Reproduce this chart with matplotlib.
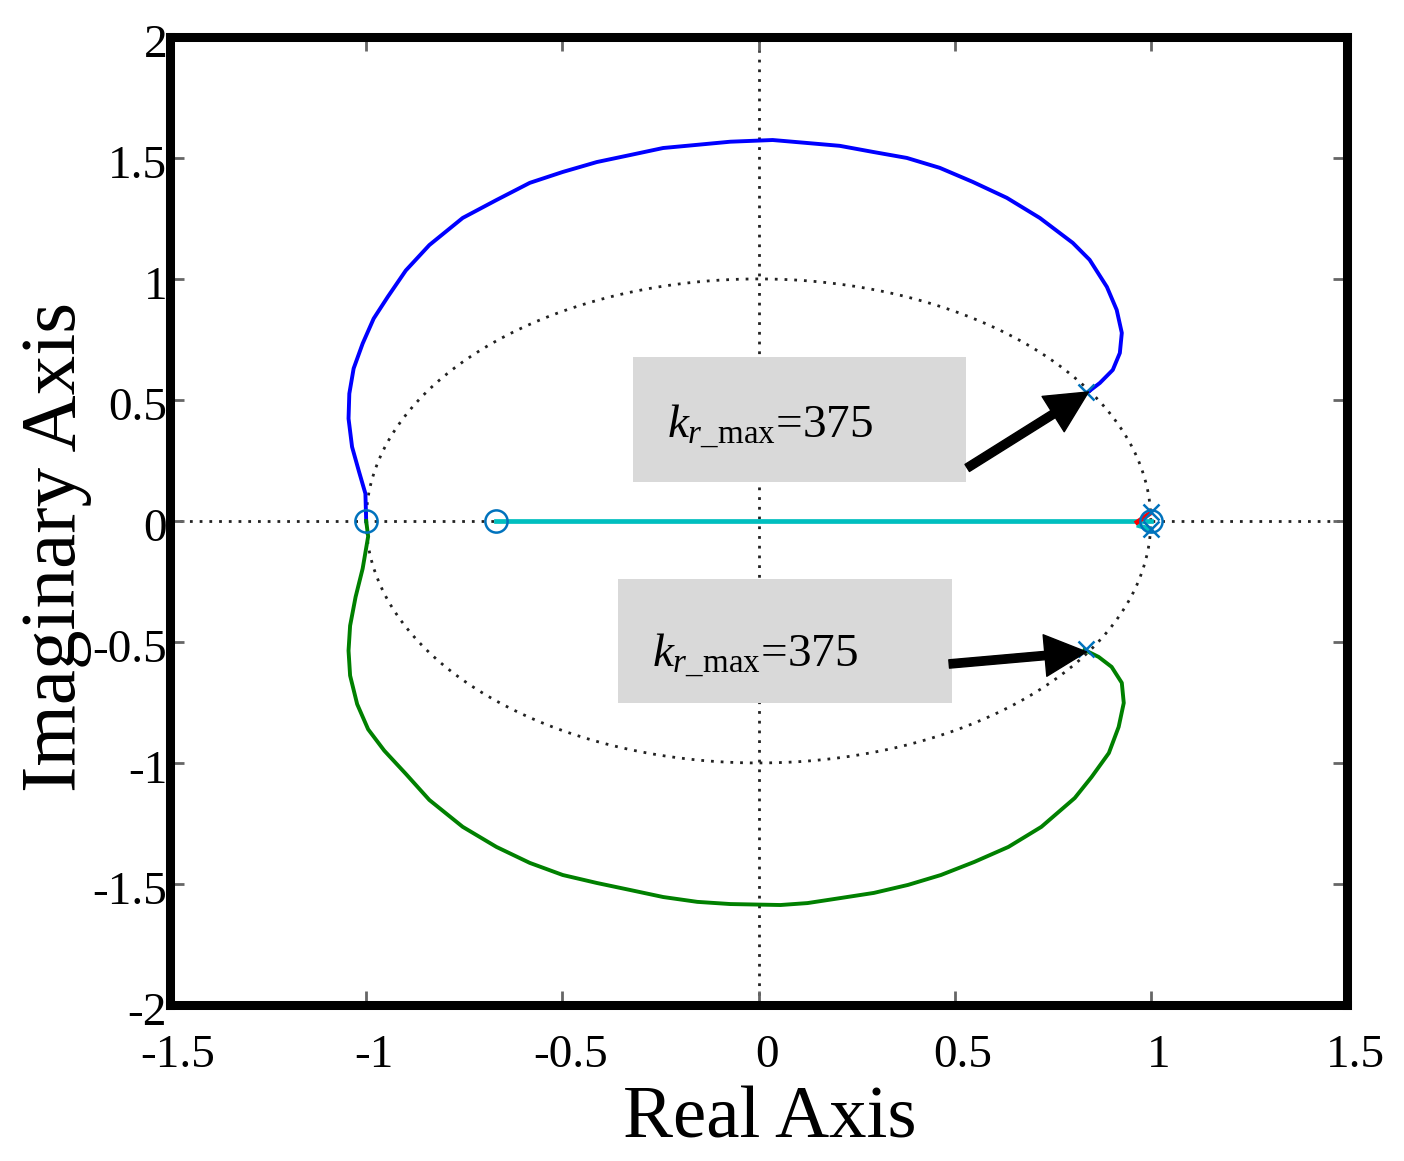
import numpy as np
import matplotlib
matplotlib.use("Agg")
import matplotlib.pyplot as plt
from matplotlib.transforms import ScaledTranslation

# -----------------------------
# datos
# -----------------------------
# rama superior (azul)
blue_re = [0.837, 0.870, 0.903, 0.921, 0.926, 0.913, 0.888, 0.844, 0.801, 0.717,
           0.633, 0.546, 0.462, 0.378, 0.291, 0.207, 0.122, 0.036, -0.072, -0.157,
           -0.243, -0.327, -0.412, -0.499, -0.583, -0.668, -0.754, -0.839, -0.899, -0.945,
           -0.981, -1.009, -1.032, -1.043, -1.045, -1.036, -1.018, -1.002, -1.0]
blue_im = [0.529, 0.570, 0.624, 0.694, 0.777, 0.872, 0.967, 1.079, 1.149, 1.252,
           1.335, 1.401, 1.459, 1.500, 1.525, 1.550, 1.562, 1.574, 1.567, 1.554,
           1.541, 1.512, 1.483, 1.442, 1.397, 1.326, 1.252, 1.140, 1.035, 0.926,
           0.836, 0.733, 0.630, 0.526, 0.423, 0.306, 0.202, 0.113, 0.0]

# rama inferior (verde)
green_re = [0.831, 0.867, 0.900, 0.926, 0.931, 0.918, 0.893, 0.849, 0.806, 0.721,
            0.637, 0.550, 0.465, 0.381, 0.294, 0.210, 0.125, 0.056, -0.072, -0.156,
            -0.243, -0.327, -0.412, -0.499, -0.583, -0.668, -0.754, -0.839, -0.899, -0.954,
            -0.995, -1.023, -1.041, -1.045, -1.041, -1.027, -1.009, -0.995, -1.0]
green_im = [-0.533, -0.562, -0.603, -0.669, -0.752, -0.851, -0.959, -1.058, -1.145, -1.264,
            -1.347, -1.409, -1.463, -1.504, -1.537, -1.558, -1.579, -1.587, -1.583, -1.574,
            -1.554, -1.525, -1.496, -1.463, -1.413, -1.347, -1.264, -1.153, -1.045, -0.949,
            -0.861, -0.757, -0.639, -0.536, -0.433, -0.314, -0.197, -0.064, 0.0]

# rama real (cian) y rama corta (roja)
cyan_re = [-0.668, 1.0]
cyan_im = [0.0, 0.0]
cyan2_re = [0.97, 1.0]
cyan2_im = [-0.02, -0.035]
red_re = [0.965, 0.995]
red_im = [-0.005, 0.028]

# ceros y polos
zeros_re = [-1.0, -0.668, 1.0]
zeros_im = [0.0, 0.0, 0.0]
poles_re = [1.0, 1.0, 0.834, 0.834]
poles_im = [0.035, -0.035, 0.531, -0.531]

# anotaciones k_r_max
note_text = r"$k_{r\_\mathrm{max}}$=375"
note_xy = [(-0.233, 0.343), (-0.271, -0.603)]
box_x = [(-0.321, 0.530), (-0.358, 0.494)]
box_y = [(0.161, 0.678), (-0.751, -0.240)]
arrow_tail = [(0.532, 0.219), (0.486, -0.591)]
arrow_tip = [(0.841, 0.533), (0.836, -0.541)]

xticks = [-1.5, -1, -0.5, 0, 0.5, 1, 1.5]
yticks = [-2, -1.5, -1, -0.5, 0, 0.5, 1, 1.5, 2]

# -----------------------------
# estilo
# -----------------------------
plt.rcParams["font.family"] = ["Liberation Serif", "DejaVu Serif"]
plt.rcParams["mathtext.fontset"] = "custom"
plt.rcParams["mathtext.rm"] = "Liberation Serif"
plt.rcParams["mathtext.it"] = "Liberation Serif:italic"
plt.rcParams["axes.unicode_minus"] = False

fig = plt.figure(figsize=(14.04, 11.61), dpi=100)
ax = fig.add_axes([0.1211, 0.1344, 0.8383, 0.8338])

matlab_blue = "#0072BD"
grid_col = "#222222"
dots = (0, (1, 2.5))

# rejilla: ejes y circulo unitario
ax.plot([-1.5, 1.5], [0, 0], color=grid_col, lw=2, linestyle=dots, zorder=1)
ax.plot([0, 0], [-2, 2], color=grid_col, lw=2, linestyle=dots, zorder=1)
th = np.linspace(0, 2 * np.pi, 400)
ax.plot(np.cos(th), np.sin(th), color=grid_col, lw=2, linestyle=dots, zorder=1)

# ramas del lugar de raices
ax.plot(blue_re, blue_im, color="#0000FF", lw=2.8, zorder=3)
ax.plot(green_re, green_im, color="#008000", lw=2.8, zorder=3)
ax.plot(cyan_re, cyan_im, color="#00BFBF", lw=3.4, zorder=3)
ax.plot(cyan2_re, cyan2_im, color="#00BFBF", lw=3.4, zorder=3)
ax.plot(red_re, red_im, color="#FF0000", lw=3.5, zorder=4)

ax.plot(zeros_re, zeros_im, linestyle="none", marker="o", ms=16, mfc="none",
        mec=matlab_blue, mew=1.8, zorder=5)
ax.plot(poles_re, poles_im, linestyle="none", marker="x", ms=12,
        mec=matlab_blue, mew=1.8, zorder=5)

# cajas grises con texto y flechas
for i in range(2):
    x0, x1 = box_x[i]
    y0, y1 = box_y[i]
    ax.fill_between([x0, x1], [y0, y0], [y1, y1], color="#D9D9D9", lw=0, zorder=2)
    ax.text(note_xy[i][0], note_xy[i][1], note_text, fontsize=34, va="baseline",
            ha="left", color="black", zorder=6)
    ax.annotate("", xy=arrow_tip[i], xytext=arrow_tail[i],
                arrowprops=dict(width=6, headwidth=30, headlength=30,
                                facecolor="black", edgecolor="black", shrink=0),
                zorder=6)

# ejes
ax.set_xlim(-1.5, 1.5)
ax.set_ylim(-2, 2)
ax.set_xticks(xticks)
ax.set_yticks(yticks)
ax.set_xticklabels(["-1.5", "-1", "-0.5", "0", "0.5", "1", "1.5"])
ax.set_yticklabels(["-2", "-1.5", "-1", "-0.5", "0", "0.5", "1", "1.5", "2"])
ax.tick_params(direction="in", length=10, width=2, color="#666666",
               top=True, right=True, labelsize=34)
ax.tick_params(axis="x", pad=21)
ax.tick_params(axis="y", pad=2)
for s in ax.spines.values():
    s.set_linewidth(6.5)
    s.set_color("black")

dx = ScaledTranslation(8 / 100, 0, fig.dpi_scale_trans)
for lab in ax.get_xticklabels():
    lab.set_transform(lab.get_transform() + dx)
dy = ScaledTranslation(0, -4 / 100, fig.dpi_scale_trans)
for lab in ax.get_yticklabels():
    lab.set_transform(lab.get_transform() + dy)

ax.set_xlabel("Real Axis", fontsize=54)
ax.set_ylabel("Imaginary Axis", fontsize=57)
ax.xaxis.set_label_coords(0.51, -0.084)
ax.yaxis.set_label_coords(-0.066, 0.473)

fig.savefig("out.png", dpi=100)
